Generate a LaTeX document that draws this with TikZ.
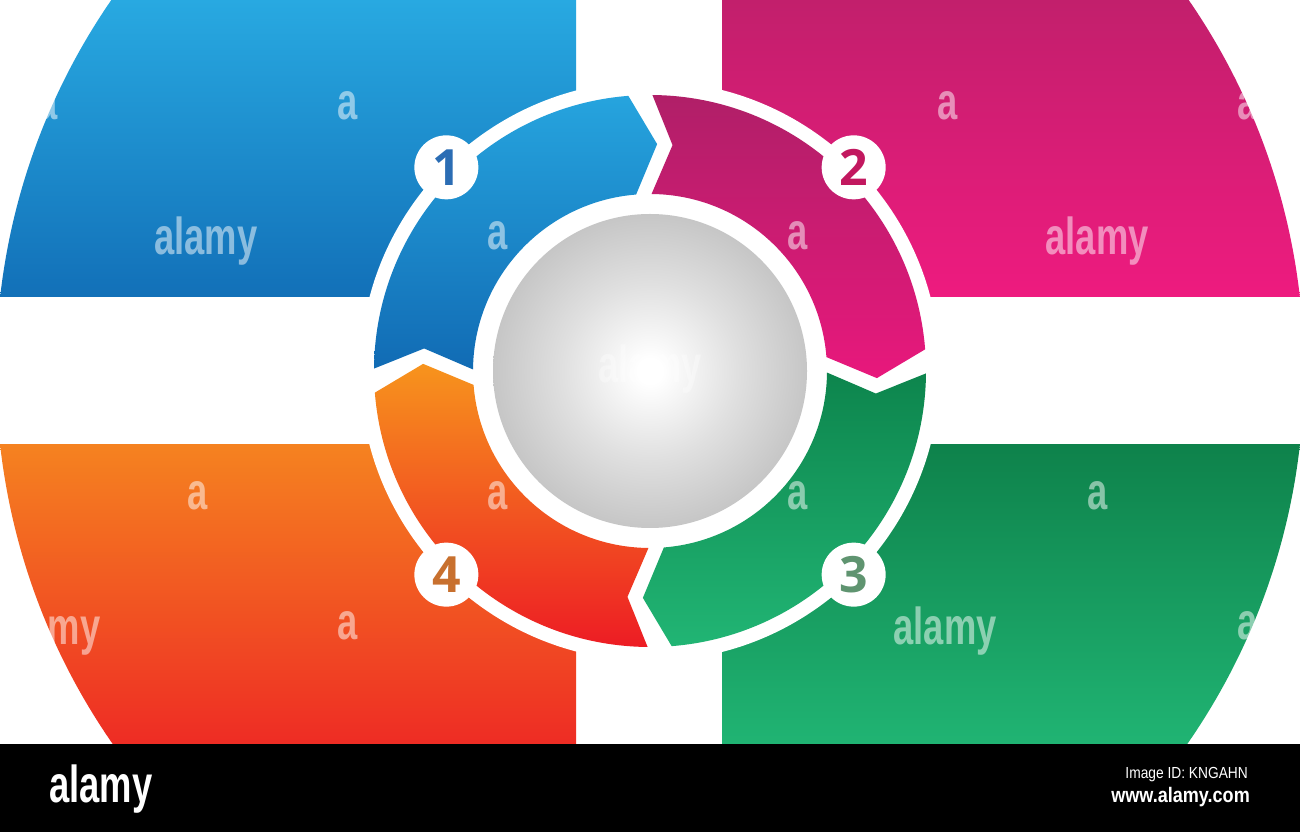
\documentclass[tikz,border=0pt]{standalone}
\usepackage{fontspec}
\setmainfont{Liberation Sans}
\newfontfamily\numfont{Open Sans}
\newfontfamily\condfont{Liberation Sans}[FakeStretch=0.7]
\newfontfamily\idfont{Liberation Sans}[FakeStretch=0.86]
\definecolor{blueT}{HTML}{28A9E1}
\definecolor{blueB}{HTML}{1270B8}
\definecolor{blueRT}{HTML}{26A4DE}
\definecolor{blueRB}{HTML}{116BB4}
\definecolor{magT}{HTML}{C21F6C}
\definecolor{magB}{HTML}{EE1B7F}
\definecolor{magRT}{HTML}{B01F68}
\definecolor{magRB}{HTML}{E8187C}
\definecolor{oraT}{HTML}{F58220}
\definecolor{oraB}{HTML}{EE2C24}
\definecolor{oraRT}{HTML}{F7941D}
\definecolor{oraRB}{HTML}{ED1C24}
\definecolor{grnT}{HTML}{0E824B}
\definecolor{grnB}{HTML}{20B473}
\definecolor{grnRT}{HTML}{0D854D}
\definecolor{grnRB}{HTML}{21B574}
\definecolor{numA}{HTML}{2B6DB4}
\definecolor{numB}{HTML}{C2185F}
\definecolor{numC}{HTML}{5F9470}
\definecolor{numD}{HTML}{C8702E}
\definecolor{ballEdge}{HTML}{C6C6C6}
\pgfdeclareradialshading{grayball}{\pgfpoint{0bp}{0bp}}{%
  color(0bp)=(white); color(2bp)=(white); color(14bp)=(ballEdge!55!white);
  color(25bp)=(ballEdge); color(50bp)=(ballEdge)}
\newcommand\ringseg[3]{%
  \shade[top color=#2, bottom color=#3]
    ({#1-40.5}:276) arc[start angle={#1-40.5}, end angle={#1+44.5}, radius=276]
    -- ({#1+39.3}:227) -- ({#1+44.5}:177)
    arc[start angle={#1+44.5}, end angle={#1-40.5}, radius=177]
    -- ({#1-46.8}:227) -- cycle;}
\begin{document}
\begin{tikzpicture}[x=1pt, y=1pt,
  numcirc/.style={circle, fill=white, minimum size=64pt, inner sep=0pt,
    font=\numfont\bfseries\fontsize{50}{50}\selectfont},
  wm/.style={text=white, text opacity=0.5, inner sep=0pt, anchor=base,
    font=\condfont\bfseries\fontsize{52}{52}\selectfont},
  bartext/.style={text=white, inner sep=0pt, anchor=base east}]
\useasboundingbox (0,0) rectangle (1300,832);
\fill[white] (0,0) rectangle (1300,832);
\coordinate (C) at (650,461);
% quadrant panels
\begin{scope}
  \clip (C) circle (654);
  \shade[top color=blueT, bottom color=blueB] (0,535) rectangle (576,832);
  \shade[top color=magT, bottom color=magB] (722,535) rectangle (1300,832);
  \shade[top color=oraT, bottom color=oraB] (0,88) rectangle (576,387);
  \shade[top color=grnT, bottom color=grnB] (722,88) rectangle (1300,387);
\end{scope}
\fill[white] (C) circle (290);
% ring of arrows
\begin{scope}[shift={(C)}]
  \ringseg{135}{blueRT}{blueRB}
  \ringseg{45}{magRT}{magRB}
  \ringseg{-45}{grnRT}{grnRB}
  \ringseg{225}{oraRT}{oraRB}
  \shade[shading=grayball] (0,0) circle (157);
  \node[numcirc, text=numA] (n1) at (135:288) {1};
  \node[numcirc, text=numB] (n2) at (45:288) {2};
  \node[numcirc, text=numC] (n3) at (-45:288) {3};
  \node[numcirc, text=numD] (n4) at (225:288) {4};
\end{scope}
% watermarks
\node[wm] (w1) at (206,577) {alamy};
\node[wm] (w2) at (1097,577) {alamy};
\node[wm] (w3) at (945,187) {alamy};
\node[wm] (w4) at (49,187) {alamy};
\node[wm, text opacity=0.35] (w5) at (650,449) {alamy};
\node[wm] (a1) at (48,712) {a};
\node[wm] (a2) at (348,712) {a};
\node[wm] (a3) at (948,712) {a};
\node[wm] (a4) at (1248,712) {a};
\node[wm] (a5) at (498,582) {a};
\node[wm] (a6) at (798,582) {a};
\node[wm] (a7) at (198,322) {a};
\node[wm] (a8) at (498,322) {a};
\node[wm] (a9) at (798,322) {a};
\node[wm] (a10) at (1098,322) {a};
\node[wm] (a11) at (348,192) {a};
\node[wm] (a12) at (1248,192) {a};
% bottom bar
\fill[black] (0,0) rectangle (1300,88);
\node[text=white, inner sep=0pt, anchor=base,
  font=\condfont\bfseries\fontsize{52}{52}\selectfont] (logo) at (101,29) {alamy};
\node[bartext, font=\idfont\fontsize{16}{16}\selectfont] (imgid) at (1248,53) {Image ID: KNGAHN};
\node[bartext, font=\idfont\bfseries\fontsize{21}{21}\selectfont] (url) at (1250,30) {www.alamy.com};
\end{tikzpicture}
\end{document}
